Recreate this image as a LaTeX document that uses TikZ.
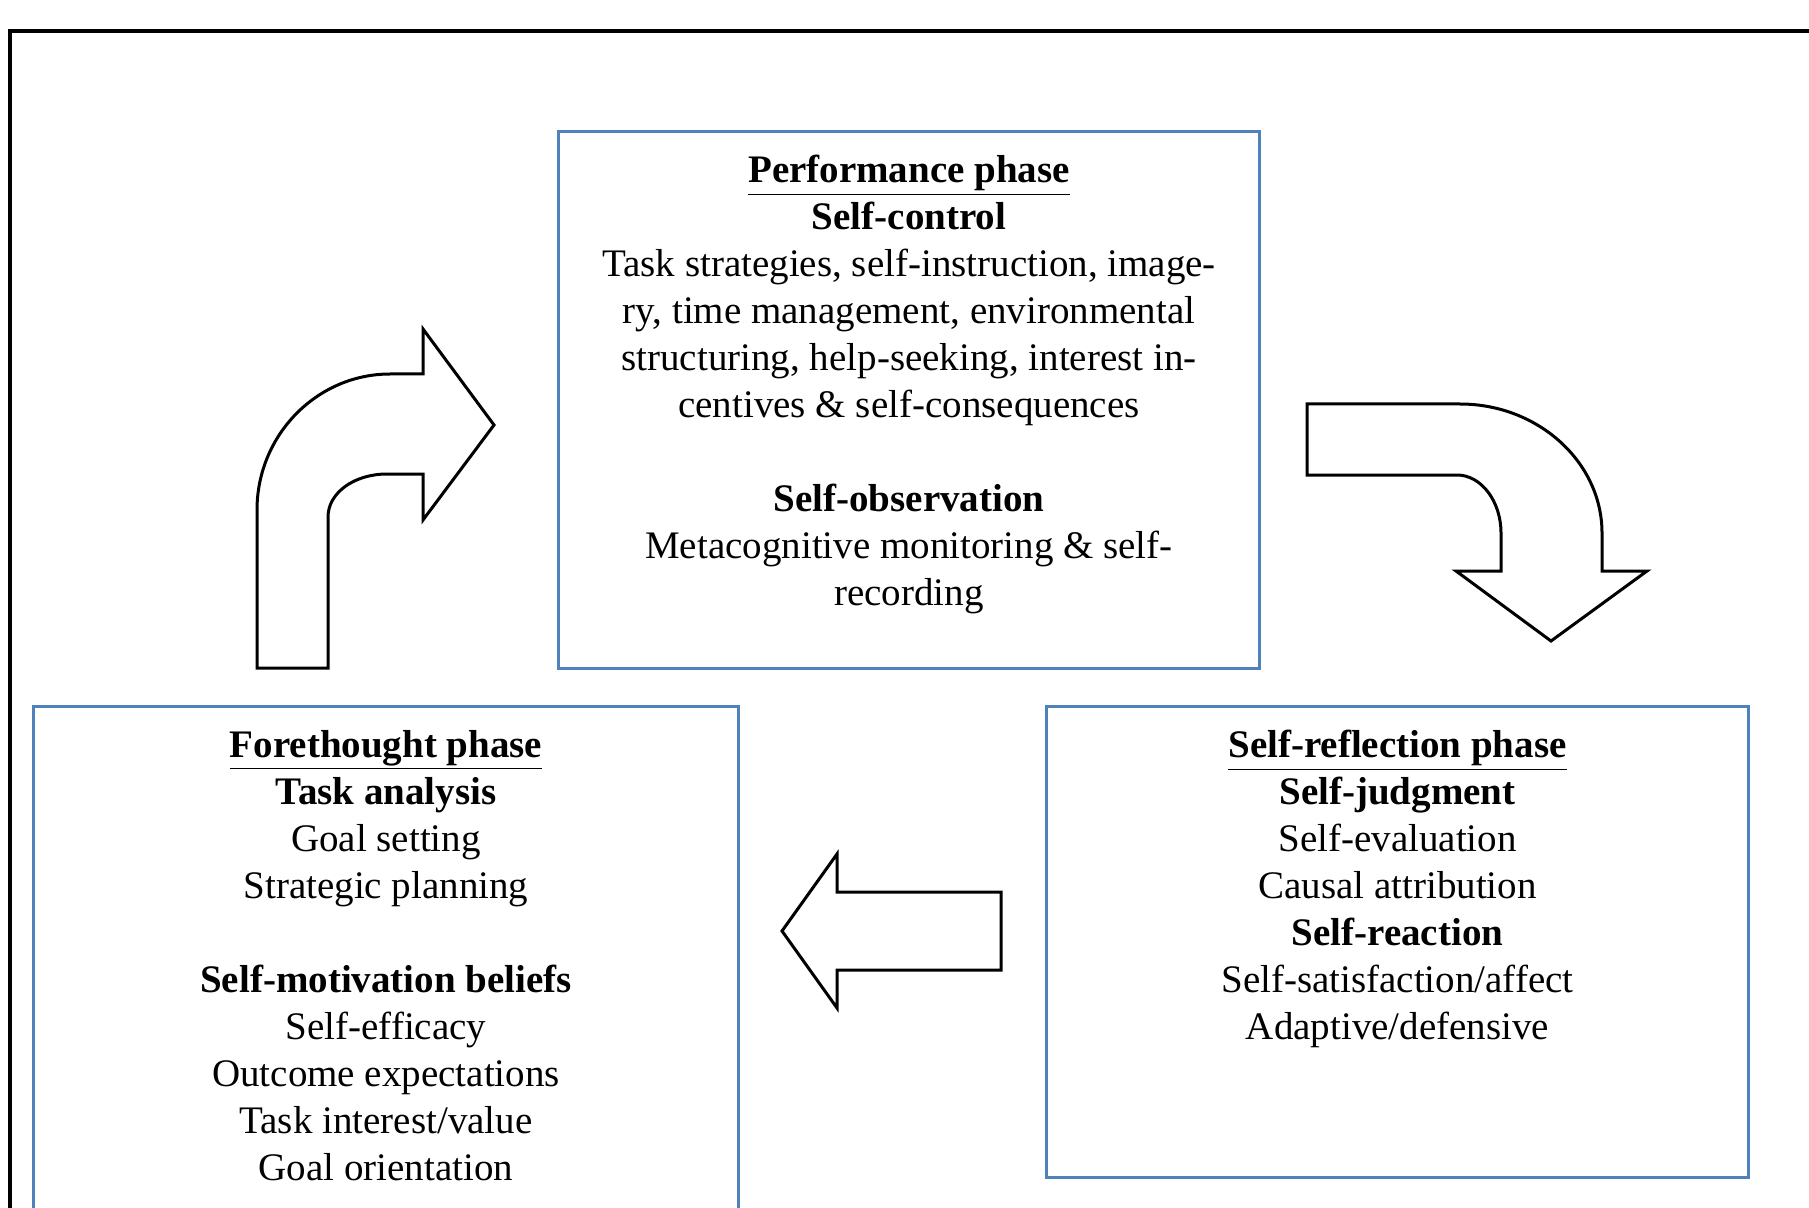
\documentclass[tikz,border=0pt]{standalone}
\usepackage{fontspec}
\setmainfont{Liberation Serif}
\usepackage{tikz}
\usetikzlibrary{positioning}
\definecolor{boxblue}{HTML}{4F81BD}

\begin{document}
\begin{tikzpicture}[
  x=0.5pt,y=-0.5pt,
  font=\fontsize{19.5}{23.5}\selectfont,
  phase/.style={draw=boxblue,line width=1.5pt,inner sep=0pt},
  txt/.style={align=center,anchor=north,inner sep=0pt},
  blk/.style={draw=black,line width=1.5pt,line join=miter,fill=white}
]
\useasboundingbox (0,0) rectangle (1809,1208);
\clip (0,0) rectangle (1809,1208);
% outer frame (open to the right and below)
\draw[line width=2pt] (10,1208) -- (10,31) -- (1809,31);

% the three phase boxes
\node[phase,minimum width=701*0.5pt,minimum height=537*0.5pt,anchor=north west] (perf) at (557,130) {};
\node[phase,minimum width=705*0.5pt,minimum height=540*0.5pt,anchor=north west] (fore) at (32,705) {};
\node[phase,minimum width=702*0.5pt,minimum height=471*0.5pt,anchor=north west] (refl) at (1045,705) {};

\node[txt,below=12.5pt of perf.north] (perftxt) {%
  \underline{\textbf{Performance phase}}\\
  \textbf{Self-control}\\
  Task strategies, self-instruction, image-\\
  ry, time management, environmental\\
  structuring, help-seeking, interest in-\\
  centives \& self-consequences\\[23.5pt]
  \textbf{Self-observation}\\
  Metacognitive monitoring \& self-\\
  recording};
\node[txt,below=12.5pt of fore.north] (foretxt) {%
  \underline{\textbf{Forethought phase}}\\
  \textbf{Task analysis}\\
  Goal setting\\
  Strategic planning\\[23.5pt]
  \textbf{Self-motivation beliefs}\\
  Self-efficacy\\
  Outcome expectations\\
  Task interest/value\\
  Goal orientation};
\node[txt,below=12.5pt of refl.north] (refltxt) {%
  \underline{\textbf{Self-reflection phase}}\\
  \textbf{Self-judgment}\\
  Self-evaluation\\
  Causal attribution\\
  \textbf{Self-reaction}\\
  Self-satisfaction/affect\\
  Adaptive/defensive};

% block arrows between the phases
\draw[blk] (257,668) -- (257,510) .. controls (257,435) and (317,374) .. (390,374)
  -- (423,374) -- (423,329) -- (494,425) -- (423,520) -- (423,474) -- (387,474)
  .. controls (354,474) and (328,493) .. (328,517) -- (328,668) -- cycle;
\draw[blk] (1307,404) -- (1460,404) .. controls (1538,404) and (1602,462) .. (1602,533)
  -- (1602,571) -- (1647,571) -- (1551,641) -- (1456,571) -- (1501,571) -- (1501,533)
  .. controls (1501,501) and (1481,475) .. (1457,475) -- (1307,475) -- cycle;
\draw[blk] (1001,892) -- (837,892) -- (837,854) -- (782,931) -- (837,1008)
  -- (837,970) -- (1001,970) -- cycle;
\end{tikzpicture}
\end{document}
